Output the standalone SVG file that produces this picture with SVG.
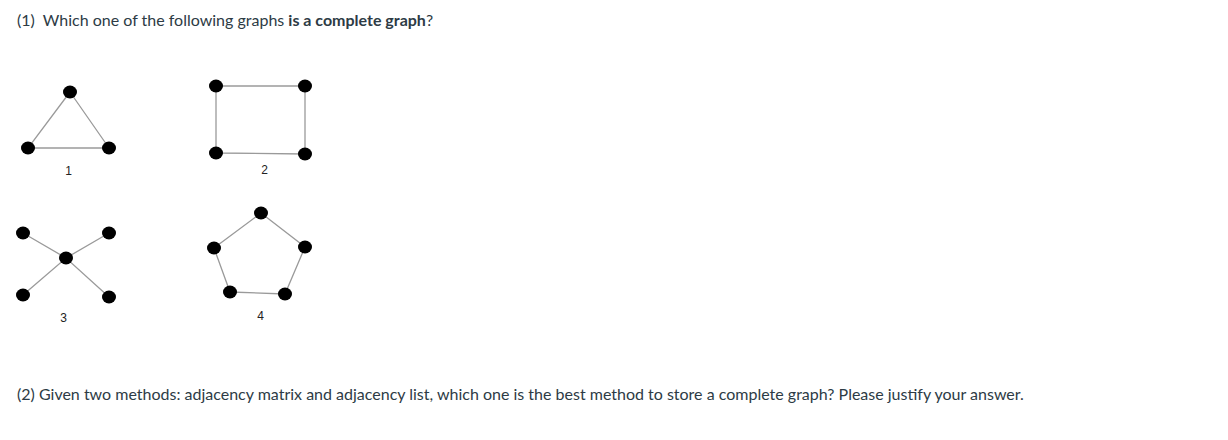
<svg xmlns="http://www.w3.org/2000/svg" width="1228" height="440" viewBox="0 0 1228 440">
<style>
.q{font-family:Lato,"Liberation Sans",sans-serif;font-size:16px;fill:#2d3b45}
.b{font-weight:bold}
.lbl{font-family:"Liberation Sans",Arial,sans-serif;font-size:12px;fill:#222;text-anchor:middle}
.e{stroke:#9a9a9a;stroke-width:1.3;fill:none}
.n{fill:#000}
</style>
<rect width="1228" height="440" fill="#fff"/>
<text class="q" x="17" y="26" xml:space="preserve">(1)  Which one of the following graphs <tspan class="b">is a complete graph</tspan>?</text>
<g id="connectors">
<path class="e" d="M70 92 L28 148 L109 148 Z"/>
<path class="e" d="M216 86 L305 86 L305 154 L216 153 Z"/>
<path class="e" d="M23 233 L66 258 L109 233 M23 295 L66 258 L109 297"/>
<path class="e" d="M261 213 L305 247 L285 294 L230 292 L214 248 Z"/>
</g>
<g id="graph1">
<ellipse class="n" cx="70" cy="92" rx="7" ry="6.5"/>
<ellipse class="n" cx="28" cy="148" rx="7" ry="6.5"/>
<ellipse class="n" cx="109" cy="148" rx="7" ry="6.5"/>
<text class="lbl" x="68.5" y="175">1</text>
</g>
<g id="graph2">
<ellipse class="n" cx="216" cy="86" rx="7" ry="6.5"/>
<ellipse class="n" cx="305" cy="86" rx="7" ry="6.5"/>
<ellipse class="n" cx="216" cy="153" rx="7" ry="6.5"/>
<ellipse class="n" cx="305" cy="154" rx="7" ry="6.5"/>
<text class="lbl" x="264.5" y="174">2</text>
</g>
<g id="graph3">
<ellipse class="n" cx="23" cy="233" rx="7" ry="6.5"/>
<ellipse class="n" cx="109" cy="233" rx="7" ry="6.5"/>
<ellipse class="n" cx="66" cy="258" rx="7" ry="6.5"/>
<ellipse class="n" cx="23" cy="295" rx="7" ry="6.5"/>
<ellipse class="n" cx="109" cy="297" rx="7" ry="6.5"/>
<text class="lbl" x="63.5" y="322">3</text>
</g>
<g id="graph4">
<ellipse class="n" cx="261" cy="213" rx="7" ry="6.5"/>
<ellipse class="n" cx="214" cy="248" rx="7" ry="6.5"/>
<ellipse class="n" cx="305" cy="247" rx="7" ry="6.5"/>
<ellipse class="n" cx="230" cy="292" rx="7" ry="6.5"/>
<ellipse class="n" cx="285" cy="294" rx="7" ry="6.5"/>
<text class="lbl" x="260.5" y="320">4</text>
</g>
<text class="q" x="17" y="400">(2) Given two methods: adjacency matrix and adjacency list, which one is the best method to store a complete graph? Please justify your answer.</text>
</svg>
